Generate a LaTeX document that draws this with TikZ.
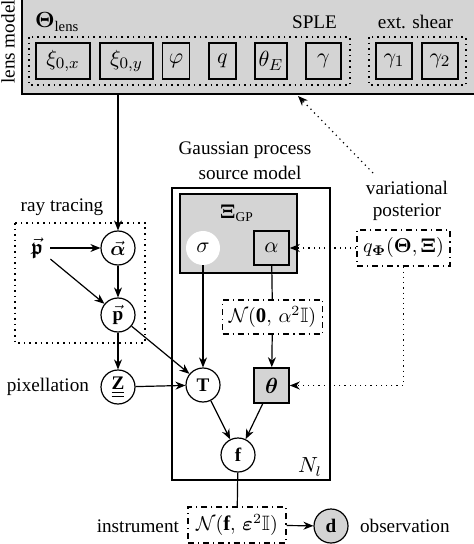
\documentclass[tikz,border=0pt]{standalone}
\usepackage{amsmath}
\usepackage{amssymb}
\usepackage{bm}
\usepackage{fontspec}
\setmainfont{Liberation Serif}
\usetikzlibrary{arrows.meta}
\definecolor{boxgray}{gray}{0.83}

\begin{document}
\begin{tikzpicture}[x=0.5pt,y=-0.5pt,font=\fontsize{9.6}{11}\selectfont,
    var/.style={circle,draw,semithick,minimum size=17pt,inner sep=0pt},
    parbox/.style={rectangle,draw,thick,fill=boxgray,minimum height=18pt,inner sep=1pt,font=\fontsize{11}{13}\selectfont},
    distbox/.style={rectangle,draw,semithick,dashdotted,minimum height=17pt,inner sep=2pt,font=\fontsize{10.4}{12}\selectfont},
    arr/.style={-{Stealth[length=5pt,width=4pt]},semithick},
    post/.style={-{Stealth[length=5pt,width=4pt]},semithick,dotted}]
    \useasboundingbox (0,0) rectangle (474,544);

    % lens model
    \filldraw[fill=boxgray,semithick] (22,-5) rectangle (480,94);
    \node[rotate=90] (lensmodel) at (8,42) {lens model};
    \node[anchor=west] (thetalens) at (28,22) {\fontsize{10.5}{12}\selectfont$\bm{\Theta}_{\text{lens}}$};
    \node[anchor=east] (sple) at (344,22) {SPLE};
    \node[anchor=east] (extshear) at (460,22) {ext. shear};
    \draw[dotted,thick] (29,37) rectangle (350,85);
    \draw[dotted,thick] (369,37) rectangle (466,85);
    \node[parbox,minimum width=27pt] (xix) at (63,61) {$\xi_{0,x}$};
    \node[parbox,minimum width=26.5pt] (xiy) at (126.5,61) {$\xi_{0,y}$};
    \node[parbox,minimum width=13.5pt] (phi) at (176,61) {$\varphi$};
    \node[parbox,minimum width=13.5pt] (q) at (222.5,61) {$q$};
    \node[parbox,minimum width=16pt] (thetaE) at (271,61) {$\theta_E$};
    \node[parbox,minimum width=17.5pt] (gamma) at (323.5,61) {$\gamma$};
    \node[parbox,minimum width=18pt] (gammaA) at (394,61) {$\gamma_1$};
    \node[parbox,minimum width=18pt] (gammaB) at (440,61) {$\gamma_2$};
    \coordinate (lensout) at (118,94);
    \coordinate (lensin) at (298,96);

    % ray tracing
    \draw[dotted,thick] (15,223) rectangle (145,343);
    \node (raylabel) at (62,207) {ray tracing};
    \node (pfrak) at (37,248) {\fontsize{10.5}{12}\selectfont$\vec{\bm{\mathfrak{p}}}$};
    \node[var] (alpha) at (118,248) {$\vec{\bm{\alpha}}$};
    \node[var] (pvec) at (118,315) {$\vec{\mathbf{p}}$};
    \node[var] (Z) at (118,387) {$\underline{\underline{\mathbf{Z}}}$};
    \node[anchor=east] (pixlabel) at (96,387) {pixellation};

    % source model
    \node (gplabelA) at (245,150) {Gaussian process};
    \node (gplabelB) at (250,173) {source model};
    \draw[semithick] (172,188) rectangle (330,480);
    \node (Nl) at (310,467) {\fontsize{10.5}{12}\selectfont$N_l$};
    \filldraw[fill=boxgray,semithick] (180,194) rectangle (297,273);
    \node (xigp) at (237,213) {$\bm{\Xi}_{\mathrm{GP}}$};
    \node[circle,fill=white,minimum size=17pt,inner sep=0pt,font=\fontsize{10.5}{12}\selectfont] (sigma) at (203,248) {$\sigma$};
    \node[parbox,minimum width=17.5pt,minimum height=17pt] (alphagp) at (271.5,248) {$\alpha$};
    \node[distbox,minimum width=50pt] (prior) at (272.5,317) {$\mathcal{N}(\mathbf{0},\,\alpha^2\mathbb{I})$};
    \node[parbox,minimum width=17.5pt,minimum height=17.5pt] (theta) at (271.5,385.5) {$\bm{\theta}$};
    \node[var] (T) at (203,385) {$\mathbf{T}$};
    \node[var] (f) at (238,455) {$\mathbf{f}$};

    % observation
    \node[distbox,minimum width=49pt,minimum height=18pt] (noise) at (237,525) {$\mathcal{N}(\mathbf{f},\,\bm{\varepsilon}^2\mathbb{I})$};
    \node[anchor=east] (instlabel) at (186,526) {instrument};
    \node[var,fill=boxgray] (d) at (331,526) {$\mathbf{d}$};
    \node[anchor=west] (obslabel) at (353,526) {observation};

    % variational posterior
    \node (postA) at (407,188) {variational};
    \node (postB) at (407,212) {posterior};
    \node[distbox,minimum width=46.5pt,minimum height=18pt] (qphi) at (403.5,248) {$q_{\bm{\Phi}}(\bm{\Theta},\bm{\Xi})$};
    \coordinate (poststart) at (373,173);

    \draw[arr] (lensout) -- (alpha);
    \draw[arr] (pfrak) -- (alpha);
    \draw[arr] (pfrak) -- (pvec);
    \draw[arr] (alpha) -- (pvec);
    \draw[arr] (pvec) -- (Z);
    \draw[arr] (pvec) -- (T);
    \draw[arr] (Z) -- (T);
    \draw[arr] (sigma) -- (T);
    \draw[semithick] (alphagp) -- (prior);
    \draw[arr] (prior) -- (theta);
    \draw[arr] (T) -- (f);
    \draw[arr] (theta) -- (f);
    \draw[semithick] (f) -- (noise);
    \draw[arr] (noise) -- (d);
    \draw[post] (qphi) -- (alphagp);
    \draw[post] (qphi.south) |- (theta.east);
    \draw[post] (poststart) -- (lensin);
\end{tikzpicture}
\end{document}
